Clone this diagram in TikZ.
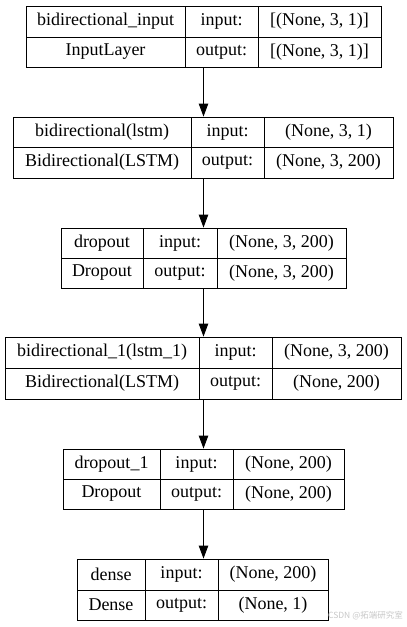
\documentclass[tikz,border=0pt]{standalone}
\usepackage{fontspec}
\setmainfont{Liberation Serif}
\newfontfamily\cjkwm{Noto Sans CJK SC}
\usetikzlibrary{arrows.meta}
\tikzset{
  cellbox/.style={draw=black, line width=0.9pt, inner sep=0pt, font=\fontsize{18}{20}\selectfont, text=black},
  arr/.style={draw=black, line width=0.9pt, -{Triangle[length=13pt,width=9.5pt]}},
  wm/.style={font=\cjkwm\fontsize{8.5}{10}\selectfont, text=black!22, anchor=east, inner sep=0pt}
}
% name, x1, y1, x2, y2, text
\newcommand\mkcell[6]{%
  \node[cellbox, minimum width={(#4-#2)*1pt}, minimum height={(#5-#3)*1pt}]
    (#1) at ({(#2+#4)/2},{(#3+#5)/2}) {#6};}
\begin{document}
\begin{tikzpicture}[x=1pt,y=-1pt]
\useasboundingbox (0,0) rectangle (407,627);
\coordinate (xa) at (203.5,0);
% layer 1
\mkcell{aLt}{26}{6}{185}{37}{bidirectional\_input}
\mkcell{aMt}{185}{6}{258}{37}{input:}
\mkcell{aRt}{258}{6}{381}{37}{[(None, 3, 1)]}
\mkcell{aLb}{26}{37}{185}{67}{InputLayer}
\mkcell{aMb}{185}{37}{258}{67}{output:}
\mkcell{aRb}{258}{37}{381}{67}{[(None, 3, 1)]}
% layer 2
\mkcell{bLt}{13}{117}{191}{147}{bidirectional(lstm)}
\mkcell{bMt}{191}{117}{264}{147}{input:}
\mkcell{bRt}{264}{117}{393}{147}{(None, 3, 1)}
\mkcell{bLb}{13}{147}{191}{178}{Bidirectional(LSTM)}
\mkcell{bMb}{191}{147}{264}{178}{output:}
\mkcell{bRb}{264}{147}{393}{178}{(None, 3, 200)}
% layer 3
\mkcell{cLt}{61}{228}{143}{258}{dropout}
\mkcell{cMt}{143}{228}{217}{258}{input:}
\mkcell{cRt}{217}{228}{346}{258}{(None, 3, 200)}
\mkcell{cLb}{61}{258}{143}{288}{Dropout}
\mkcell{cMb}{143}{258}{217}{288}{output:}
\mkcell{cRb}{217}{258}{346}{288}{(None, 3, 200)}
% layer 4
\mkcell{dLt}{5}{337}{199}{368}{bidirectional\_1(lstm\_1)}
\mkcell{dMt}{199}{337}{272}{368}{input:}
\mkcell{dRt}{272}{337}{401}{368}{(None, 3, 200)}
\mkcell{dLb}{5}{368}{199}{399}{Bidirectional(LSTM)}
\mkcell{dMb}{199}{368}{272}{399}{output:}
\mkcell{dRb}{272}{368}{401}{399}{(None, 200)}
% layer 5
\mkcell{eLt}{63}{449}{160}{479}{dropout\_1}
\mkcell{eMt}{160}{449}{233}{479}{input:}
\mkcell{eRt}{233}{449}{344}{479}{(None, 200)}
\mkcell{eLb}{63}{479}{160}{509}{Dropout}
\mkcell{eMb}{160}{479}{233}{509}{output:}
\mkcell{eRb}{233}{479}{344}{509}{(None, 200)}
% layer 6
\mkcell{fLt}{77}{559}{145}{590}{dense}
\mkcell{fMt}{145}{559}{218}{590}{input:}
\mkcell{fRt}{218}{559}{328}{590}{(None, 200)}
\mkcell{fLb}{77}{590}{145}{620}{Dense}
\mkcell{fMb}{145}{590}{218}{620}{output:}
\mkcell{fRb}{218}{590}{328}{620}{(None, 1)}
% connectors
\draw[arr] (aMb.south -| xa) -- (bMt.north -| xa);
\draw[arr] (bMb.south -| xa) -- (cMt.north -| xa);
\draw[arr] (cMb.south -| xa) -- (dMt.north -| xa);
\draw[arr] (dMb.south -| xa) -- (eMt.north -| xa);
\draw[arr] (eMb.south -| xa) -- (fMt.north -| xa);
% watermark
\node[wm] (wmark) at (403,616) {CSDN @拓端研究室};
\end{tikzpicture}
\end{document}
